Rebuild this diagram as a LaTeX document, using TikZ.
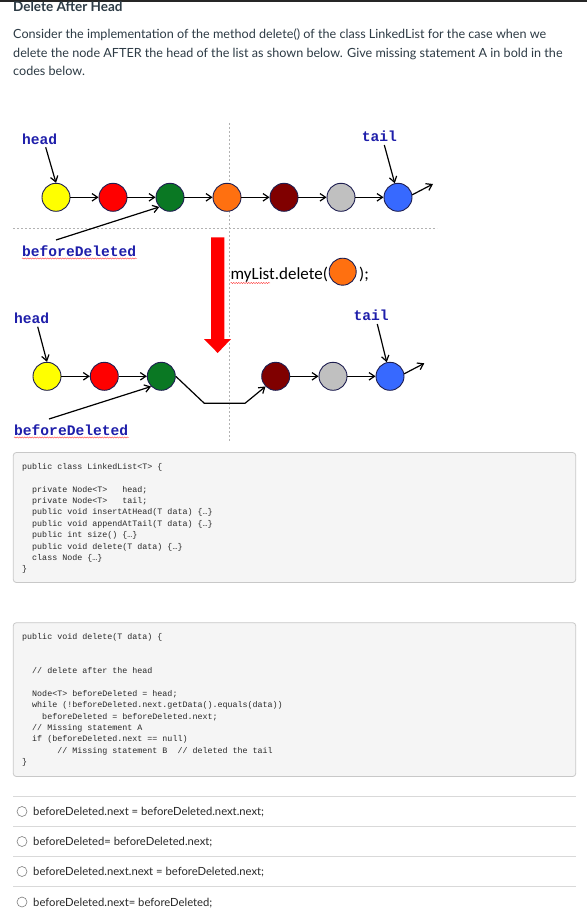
\documentclass[tikz,border=0pt]{standalone}
\usepackage{fontspec}
\setmainfont{Lato}
\newfontfamily\courfont{Liberation Mono}
\newfontfamily\codefont{Liberation Mono}
\newfontfamily\calfont{Carlito}
\usetikzlibrary{arrows.meta,decorations.pathmorphing}
\definecolor{ptr}{RGB}{30,30,170}
\definecolor{txt}{RGB}{45,59,69}
\definecolor{nborder}{RGB}{30,30,80}
\definecolor{cyellow}{RGB}{255,255,0}
\definecolor{cred}{RGB}{255,0,0}
\definecolor{cgreen}{RGB}{10,120,35}
\definecolor{corange}{RGB}{255,112,16}
\definecolor{cdred}{RGB}{128,0,0}
\definecolor{cgray}{RGB}{192,192,192}
\definecolor{cblue}{RGB}{55,105,255}
\definecolor{boxfill}{RGB}{245,245,245}
\definecolor{boxdraw}{RGB}{200,200,200}
\definecolor{codecol}{RGB}{40,40,40}
\tikzset{
  lnode/.style={circle, draw=nborder, line width=0.9pt, minimum size=28pt, inner sep=0pt},
  ptrlabel/.style={font=\courfont\bfseries\fontsize{14.6}{16}\selectfont, text=ptr, inner sep=0pt},
  link/.style={line width=1.2pt, -{Straight Barb[length=5.5pt,width=7.5pt]}},
  guide/.style={draw=gray!60, line width=0.6pt, dash pattern=on 2pt off 2pt},
  squig/.style={draw=red!80, line width=0.4pt, decorate, decoration={snake, segment length=2.5pt, amplitude=0.6pt}},
  codebox/.style={draw=boxdraw, fill=boxfill, rounded corners=3pt, line width=0.8pt},
  code/.style={font=\codefont\fontsize{8.35}{11.4}\selectfont, text=codecol, align=left, inner sep=0pt, anchor=north west},
  opt/.style={font=\fontsize{11.25}{14}\selectfont, text=codecol, inner sep=0pt, anchor=base west},
  radio/.style={circle, draw=gray, line width=0.6pt, minimum size=10pt, inner sep=0pt},
  sep/.style={draw=gray!30, line width=0.8pt}
}
\begin{document}
\begin{tikzpicture}[x=1pt,y=-1pt]
\useasboundingbox (0,0) rectangle (587,920);
\fill[white] (0,0) rectangle (587,920);
\fill[black!85] (0,0) rectangle (587,2.5);
% title and paragraph
\node[font=\bfseries\fontsize{13.5}{16}\selectfont, text=txt, anchor=base west, inner sep=0pt] (title) at (13,11.5) {Delete After Head};
\node[font=\fontsize{12.6}{18.5}\selectfont, text=txt, anchor=north west, inner sep=0pt, align=left] (para) at (13,29)
 {Consider the implementation of the method delete() of the class LinkedList for the case when we\\
  delete the node AFTER the head of the list as shown below. Give missing statement A in bold in the\\
  codes below.};
% guides
\draw[guide] (229.5,123) -- (229.5,442);
\draw[guide] (13,228.3) -- (437,228.3);
% row 1
\foreach \n/\c [count=\i from 0] in {y1/cyellow,r1/cred,g1/cgreen,o1/corange,d1/cdred,s1/cgray,b1/cblue}{
  \node[lnode, fill=\c] (\n) at ({56+57*\i},197.3) {};
}
\draw[link] (y1) -- (r1);
\draw[link] (r1) -- (g1);
\draw[link] (g1) -- (o1);
\draw[link] (o1) -- (d1);
\draw[link] (d1) -- (s1);
\draw[link] (s1) -- (b1);
\coordinate (out1) at (433,184);
\draw[link] (b1.10) -- (out1);
\node[ptrlabel, anchor=west] (head1) at (22,139) {head};
\node[ptrlabel, anchor=west] (tail1) at (361.7,136) {tail};
\coordinate (h1s) at (45.7,147.3);
\coordinate (t1s) at (384.3,145);
\draw[link] (h1s) -- (y1.north);
\draw[link] (t1s) -- (b1.103);
\node[ptrlabel, anchor=west] (bd1) at (22,251) {beforeDeleted};
\draw[squig] (22,258.5) -- (137,258.5);
\coordinate (bd1s) at (56,240);
\draw[link] (bd1s) -- (g1.222);
% big red arrow
\fill[red] (211,237.3) -- (224.3,237.3) -- (224.3,339) -- (231,339) -- (217.7,353) -- (204,339) -- (211,339) -- cycle;
% myList.delete
\node[font=\calfont\fontsize{17}{20}\selectfont, anchor=base west, inner sep=0pt] (ml) at (230.5,279) {myList.delete(};
\draw[squig] (230.5,283) -- (270,283);
\node[lnode, fill=corange, minimum size=27pt] (odel) at (342.7,271.7) {};
\node[font=\calfont\fontsize{17}{20}\selectfont, anchor=base west, inner sep=0pt] (mlend) at (359,279) {);};
% row 2
\foreach \n/\c/\xx in {y2/cyellow/47,r2/cred/104.3,g2/cgreen/161.3,d2/cdred/275.7,s2/cgray/333,b2/cblue/390}{
  \node[lnode, fill=\c] (\n) at (\xx,376.3) {};
}
\draw[link] (y2) -- (r2);
\draw[link] (r2) -- (g2);
\draw[link] (g2.east) -- (204.3,403.3) -- (245,403.3) -- (d2.225);
\draw[link] (d2) -- (s2);
\draw[link] (s2) -- (b2);
\coordinate (out2) at (424.3,363.3);
\draw[link] (b2.10) -- (out2);
\node[ptrlabel, anchor=west] (head2) at (14,318) {head};
\node[ptrlabel, anchor=west] (tail2) at (353.3,315) {tail};
\coordinate (h2s) at (37.7,326.7);
\coordinate (t2s) at (377.3,324);
\draw[link] (h2s) -- (y2.north);
\draw[link] (t2s) -- (b2.103);
\node[ptrlabel, anchor=west] (bd2) at (14,430) {beforeDeleted};
\draw[squig] (14,437.5) -- (129,437.5);
\coordinate (bd2s) at (49,419);
\draw[link] (bd2s) -- (g2.225);
% code box 1
\draw[codebox] (13.3,452.5) rectangle (575.7,582.5);
\node[code] (code1) at (22,463) {public class LinkedList<T> \{\\[11.4pt]
~~private Node<T>~~~head;\\
~~private Node<T>~~~tail;\\
~~public void insertAtHead(T data) \{…\}\\
~~public void appendAtTail(T data) \{…\}\\
~~public int size() \{…\}\\
~~public void delete(T data) \{…\}\\
~~class Node \{…\}\\
\}};
% code box 2
\draw[codebox] (13.3,622.7) rectangle (575.7,776.5);
\node[code] (code2) at (22,633) {public void delete(T data) \{\\[22.8pt]
~~// delete after the head\\[11.4pt]
~~Node<T> beforeDeleted = head;\\
~~while (!beforeDeleted.next.getData().equals(data))\\
~~~~beforeDeleted = beforeDeleted.next;\\
~~// Missing statement A\\
~~if (beforeDeleted.next == null)\\
~~~~~~~// Missing statement B~~// deleted the tail\\
\}};
% options
\draw[sep] (13,796.7) -- (576,796.7);
\draw[sep] (13,826.7) -- (576,826.7);
\draw[sep] (13,856.7) -- (576,856.7);
\draw[sep] (13,886.7) -- (576,886.7);
\node[radio] (rb1) at (22,811.5) {};
\node[radio] (rb2) at (22,841.5) {};
\node[radio] (rb3) at (22,871.5) {};
\node[radio] (rb4) at (22,902) {};
\node[opt] (o1t) at (33,815.5) {beforeDeleted.next = beforeDeleted.next.next;};
\node[opt] (o2t) at (33,845.5) {beforeDeleted= beforeDeleted.next;};
\node[opt] (o3t) at (33,875.5) {beforeDeleted.next.next = beforeDeleted.next;};
\node[opt] (o4t) at (33,906) {beforeDeleted.next= beforeDeleted;};
\end{tikzpicture}
\end{document}
